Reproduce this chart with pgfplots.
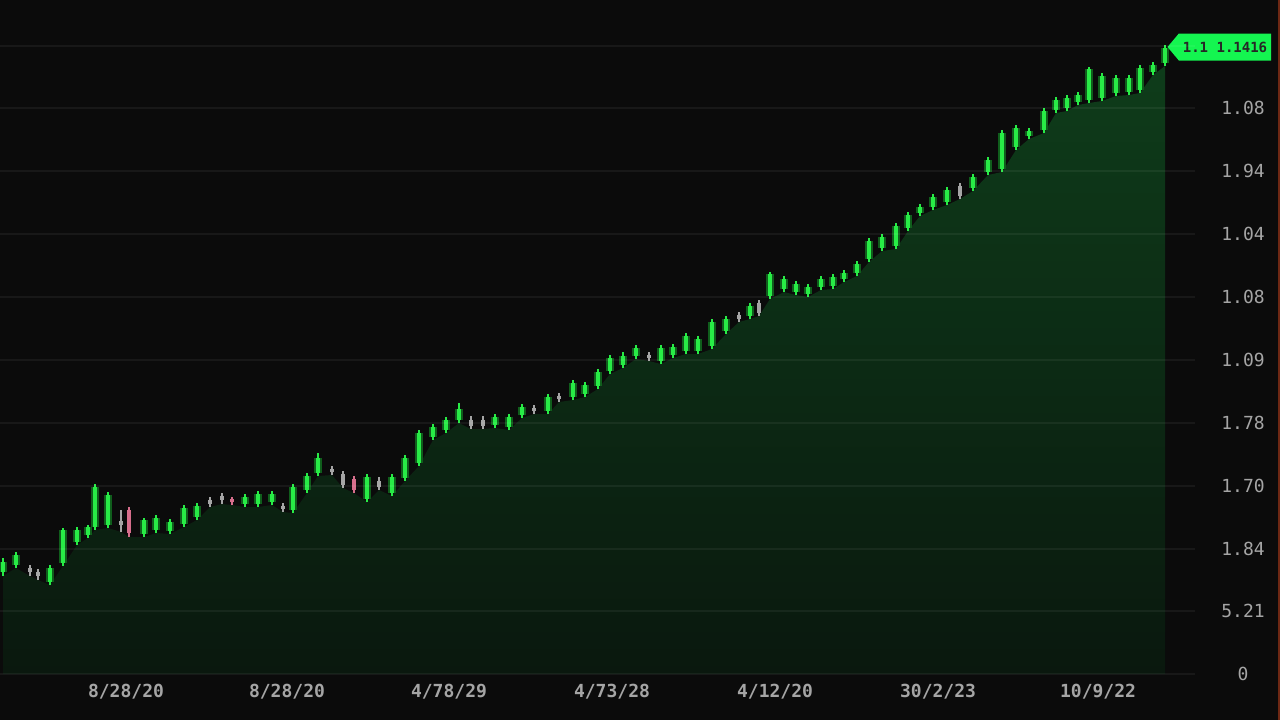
\documentclass[border=0pt]{standalone}
\usepackage{fontspec}
\usepackage{pgfplots}
\pgfplotsset{compat=1.18}
\usepackage{pgfplotstable}
\usetikzlibrary{shapes.symbols}
\newfontfamily\labelfont{DejaVu Sans Mono}

\definecolor{bg}{RGB}{11,11,11}
\definecolor{upc}{RGB}{40,235,70}
\definecolor{downc}{RGB}{215,110,140}
\definecolor{dojic}{RGB}{165,165,165}
\definecolor{areatop}{RGB}{14,60,26}
\definecolor{areabot}{RGB}{10,24,14}
\definecolor{labc}{RGB}{165,165,165}
\definecolor{tagc}{RGB}{20,245,80}
\definecolor{edgec}{RGB}{110,40,20}

% candles: x position, body top, body bottom, high, low; t: 0 up, 1 down, 2 doji
\pgfplotstableread{
x top bot hi lo t
3 112 102 116 98 0
16 119 109 122 106 0
30 106 102 109 98 2
38 102 98 105 94 2
50 106 92 109 89 0
63 144 111 146 108 0
77 144 132 147 129 0
88 147 139 149 136 0
95 187 147 190 144 0
108 179 149 182 146 0
121 153 149 164 142 2
129 164 141 167 137 1
144 154 140 156 137 0
156 156 144 159 141 0
170 152 143 155 140 0
184 166 150 169 147 0
197 168 157 171 154 0
210 174 170 177 167 2
222 178 174 181 170 2
232 175 172 177 169 1
245 177 170 180 167 0
258 180 170 183 167 0
272 180 172 183 169 0
283 168 165 171 162 2
293 187 164 190 161 0
307 198 184 201 181 0
318 216 201 221 198 0
332 205 202 208 199 2
343 200 189 203 186 2
354 195 184 198 181 1
367 197 175 200 172 0
379 193 187 197 184 2
392 197 181 200 178 0
405 216 196 219 193 0
419 241 211 244 208 0
433 247 237 250 234 0
446 254 244 257 241 0
459 265 254 271 251 0
471 254 248 258 245 2
483 254 248 258 245 2
495 257 249 260 246 0
509 257 247 260 244 0
522 267 259 270 256 0
534 266 263 269 260 2
548 277 263 280 260 0
559 278 275 281 272 2
573 291 277 294 274 0
585 289 280 292 277 0
598 302 288 305 285 0
610 316 303 319 300 0
623 318 309 322 306 0
636 326 318 329 315 0
649 319 316 322 313 2
661 326 313 329 310 0
673 327 319 330 316 0
686 338 323 341 320 0
698 335 323 338 320 0
712 352 328 355 325 0
726 355 343 358 340 0
739 359 355 362 352 2
750 368 358 371 355 0
759 371 361 374 358 2
770 400 378 402 375 0
784 395 385 398 382 0
796 390 382 393 379 0
808 387 380 390 377 0
821 395 387 398 384 0
833 397 388 400 385 0
844 401 395 404 392 0
857 410 401 413 398 0
869 433 415 436 412 0
882 437 426 440 423 0
896 448 428 451 425 0
908 459 446 462 443 0
920 467 461 470 458 0
933 477 467 480 464 0
947 484 472 487 469 0
960 488 478 491 475 2
973 497 486 500 483 0
988 514 502 517 499 0
1002 541 505 544 502 0
1016 546 527 549 524 0
1029 543 538 546 535 0
1044 563 544 566 541 0
1056 574 564 577 561 0
1067 576 566 579 563 0
1078 579 572 582 569 0
1089 605 574 607 571 0
1102 598 576 601 573 0
1116 596 581 599 578 0
1129 596 582 599 579 0
1140 606 584 609 581 0
1153 609 602 612 599 0
1165 626 611 629 608 0
}\candles

\pgfplotsset{
  bar/.style 2 args={draw=none,
    error bars/y dir=plus, error bars/y explicit, error bars/error mark=none,
    error bars/error bar style={draw=#1, line width=#2}},
}

\begin{document}
\begin{tikzpicture}
\useasboundingbox (0,0) rectangle (640pt,360pt);
\fill[bg] (0,0) rectangle (640pt,360pt);
\fill[edgec] (639.2pt,0) rectangle (640pt,360pt);
\begin{axis}[
    at={(0pt,23pt)}, anchor=south west,
    scale only axis, width=597.5pt, height=337pt,
    xmin=0, xmax=1195, ymin=0, ymax=674,
    enlargelimits=false, clip=false, axis on top,
    axis line style={draw=none},
    major tick length=0pt,
    ymajorgrids=true,
    major grid style={white, opacity=0.055, line width=0.7pt},
    xtick={126,287,449,612,775,938,1098},
    xticklabels={8/28/20,8/28/20,4/78/29,4/73/28,4/12/20,30/2/23,10/9/22},
    ytick={0,63,125,188,251,314,377,440,503,566,628},
    yticklabels={0,5.21,1.84,1.70,1.78,1.09,1.08,1.04,1.94,1.08,},
    yticklabel pos=right,
    xticklabel style={anchor=center, yshift=-9pt, text=labc,
      font=\labelfont\bfseries\fontsize{9}{10}\selectfont},
    yticklabel style={anchor=center, xshift=24pt, text=labc,
      font=\labelfont\fontsize{9}{10}\selectfont},
]
% shaded area under the price
\addplot[draw=none, top color=areatop, bottom color=areabot]
  table[x=x, y=lo] {\candles} \closedcycle;

% up candles: glow, wick, body
\addplot[restrict expr to domain={\thisrow{t}}{0:0}, bar={upc!40!black}{4pt}]
  table[x=x, y=bot, y error plus expr=\thisrow{top}-\thisrow{bot}] {\candles};
\addplot[restrict expr to domain={\thisrow{t}}{0:0}, bar={upc}{0.7pt}]
  table[x=x, y=lo, y error plus expr=\thisrow{hi}-\thisrow{lo}] {\candles};
\addplot[restrict expr to domain={\thisrow{t}}{0:0}, bar={upc}{2.1pt}]
  table[x=x, y=bot, y error plus expr=\thisrow{top}-\thisrow{bot}] {\candles};

% down candles
\addplot[restrict expr to domain={\thisrow{t}}{1:1}, bar={downc}{0.7pt}]
  table[x=x, y=lo, y error plus expr=\thisrow{hi}-\thisrow{lo}] {\candles};
\addplot[restrict expr to domain={\thisrow{t}}{1:1}, bar={downc}{1.8pt}]
  table[x=x, y=bot, y error plus expr=\thisrow{top}-\thisrow{bot}] {\candles};

% doji candles
\addplot[restrict expr to domain={\thisrow{t}}{2:2}, bar={dojic}{0.7pt}]
  table[x=x, y=lo, y error plus expr=\thisrow{hi}-\thisrow{lo}] {\candles};
\addplot[restrict expr to domain={\thisrow{t}}{2:2}, bar={dojic}{1.8pt}]
  table[x=x, y=bot, y error plus expr=\thisrow{top}-\thisrow{bot}] {\candles};

% last price tag
\node[signal, signal to=west, signal pointer angle=100, fill=tagc,
  inner xsep=2pt, inner ysep=1.5pt, minimum height=13.5pt, text=black!85,
  font=\labelfont\bfseries\fontsize{7}{8}\selectfont, anchor=west]
  at (axis cs:1167,627) {1.1 1.1416};
\end{axis}
\end{tikzpicture}
\end{document}
